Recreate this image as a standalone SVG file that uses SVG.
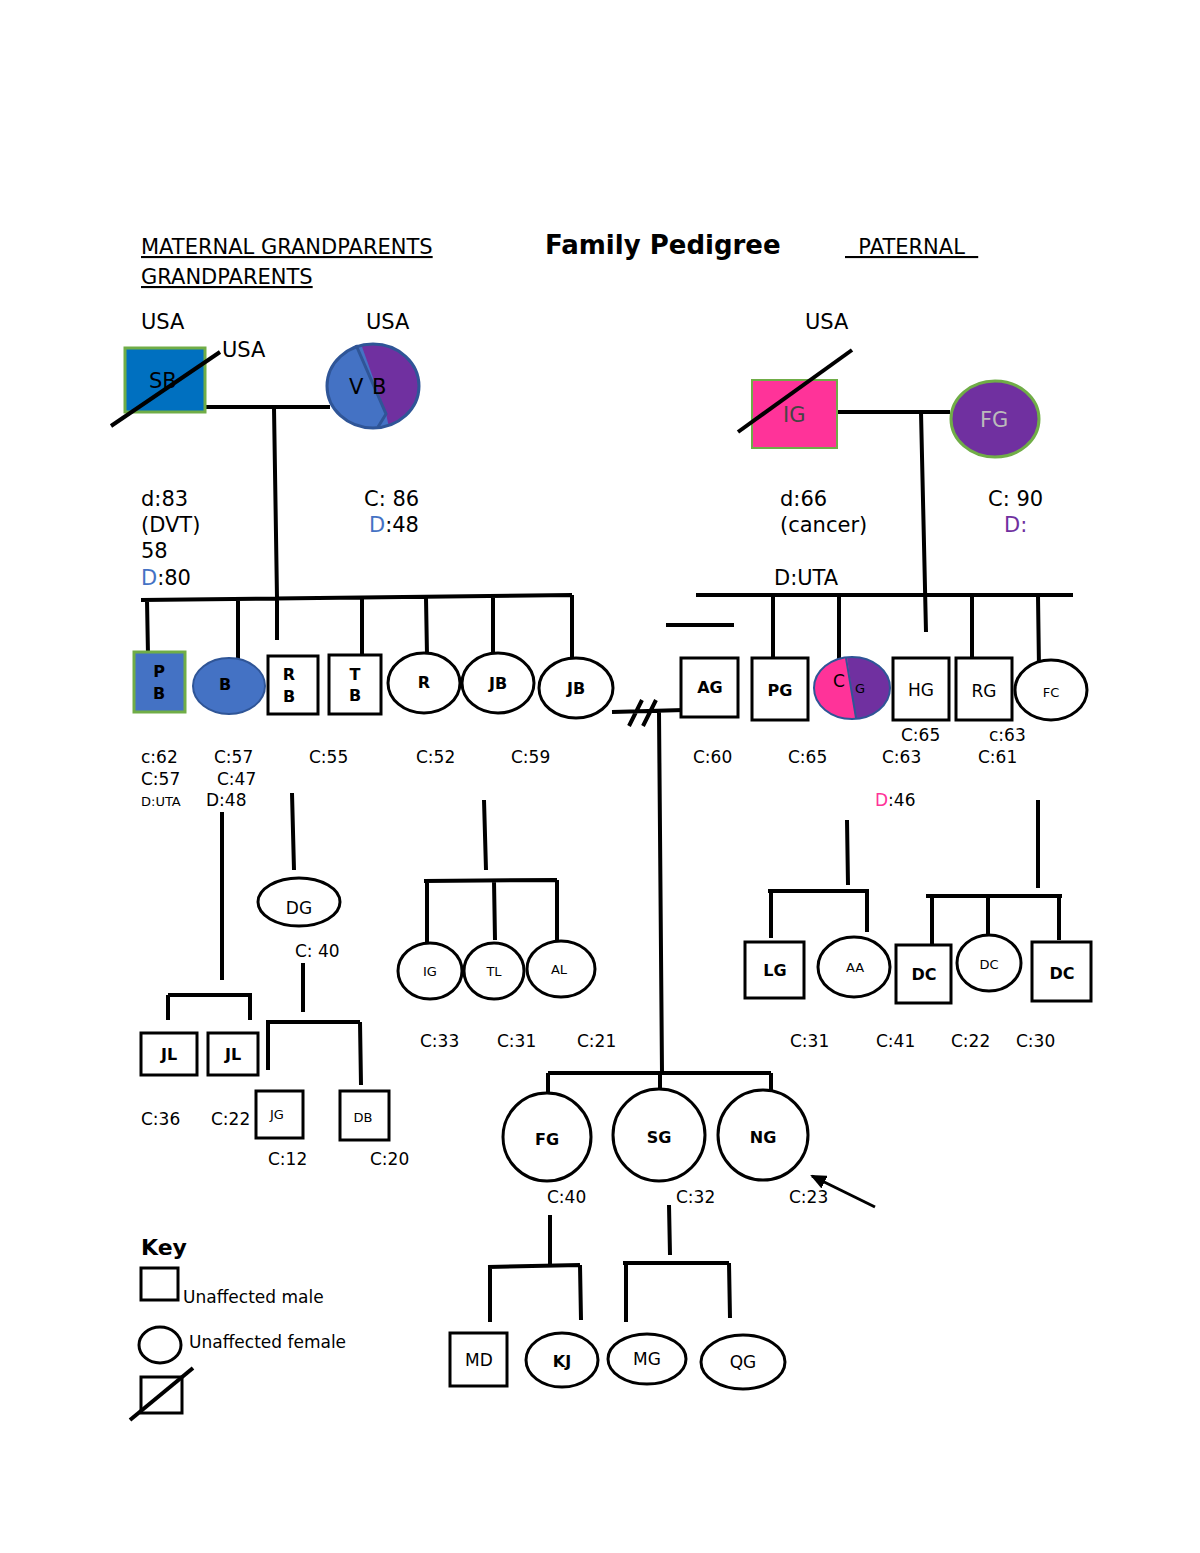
<svg xmlns="http://www.w3.org/2000/svg" width="1200" height="1553" viewBox="0 0 1200 1553">
<style>
text{font-family:"DejaVu Sans","Liberation Sans",sans-serif;fill:#000}
.t{font-size:21px}
.s{font-size:17px}
.n{font-size:16px;font-weight:bold}
.sm{font-size:13px}
.b{fill:#fff;stroke:#000;stroke-width:3}
.l{stroke:#000;stroke-width:4;fill:none}
.bl{fill:#4472c4}.pu{fill:#7030a0}.pk{fill:#ff3399}
</style>
<defs>
<clipPath id="cvb"><ellipse cx="373" cy="386" rx="46" ry="42"/></clipPath>
<clipPath id="ccg"><ellipse cx="852" cy="688" rx="38" ry="31"/></clipPath>
<marker id="ah" markerUnits="userSpaceOnUse" markerWidth="16" markerHeight="14" refX="14" refY="7" orient="auto"><path d="M0,0L16,7L0,14z" fill="#000"/></marker>
</defs>
<rect width="1200" height="1553" fill="#fff"/>
<g id="headers">
<text x="141" y="254" class="t" text-decoration="underline">MATERNAL GRANDPARENTS</text>
<text x="141" y="284" class="t" text-decoration="underline">GRANDPARENTS</text>
<text x="545" y="254" font-size="26" font-weight="bold">Family Pedigree</text>
<text x="845" y="254" class="t" text-decoration="underline" xml:space="preserve">  PATERNAL  </text>
<text x="141" y="329" class="t">USA</text>
<text x="366" y="329" class="t">USA</text>
<text x="222" y="357" class="t">USA</text>
<text x="805" y="329" class="t">USA</text>
</g>
<g id="connectors">
<path class="l" d="M203,407H330M274,408L277,598M141,600L572,595M147,600L148,655M238,600L238,660M277,598L277,640M362,598V655M426,598L427,655M493,597V652M572,595V660"/>
<path class="l" d="M837,412H950M921,412L926,632M696,595H1073M666,625H734M773,596V660M839,596V680M972,596V660M1038,596L1039,668"/>
<path class="l" d="M612,712L684,710M629,726L642,700M643,726L656,700M659,712L662,1073M548,1073H771M548,1073V1093M660,1073V1093M771,1073V1093"/>
<path class="l" d="M222,812V980M168,995H252M168,995V1020M250,995V1020M292,793L294,870M303,963V1012M266,1022H360M268,1022V1070M360,1022L361,1085"/>
<path class="l" d="M484,800L486,870M424,881L557,880M427,881V944M494,881L495,940M557,880V940"/>
<path class="l" d="M847,820L848,885M768,891H869M771,891V938M867,891V932M1038,800V888M926,896H1062M932,896V944M988,896V935M1059,896V940"/>
<path class="l" d="M550,1215V1265M488,1267L580,1265M490,1267V1322M580,1265L581,1320M669,1205L670,1255M623,1263H729M626,1263V1322M729,1263L730,1318"/>
<path stroke="#000" stroke-width="3" d="M875,1207L812,1176" marker-end="url(#ah)"/>
</g>
<g id="SB"><rect x="125" y="348" width="80" height="64" fill="#0070c0" stroke="#70ad47" stroke-width="3"/><text x="149" y="388" class="t">SB</text><path class="l" d="M111,426L220,352"/></g>
<g id="VB"><ellipse cx="373" cy="386" rx="46" ry="42" class="pu"/><path d="M300,330H356L386,414L392,440H300z" class="bl" clip-path="url(#cvb)"/><path d="M356,345L386,414L378,427" stroke="#2f5597" stroke-width="3" fill="none"/><ellipse cx="373" cy="386" rx="46" ry="42" fill="none" stroke="#2f5597" stroke-width="3"/><text x="349" y="394" class="t">V</text><text x="372" y="394" class="t">B</text></g>
<g id="IG"><rect x="752" y="380" width="85" height="68" class="pk" stroke="#70ad47" stroke-width="2"/><text x="783" y="422" class="t" style="fill:#444">IG</text><path class="l" d="M738,432L852,350"/></g>
<g id="FG1"><ellipse cx="995" cy="419" rx="44" ry="38" class="pu" stroke="#70ad47" stroke-width="3"/><text x="980" y="427" class="t" style="fill:#bbb">FG</text></g>
<g id="notes">
<text x="141" y="506" class="t">d:83</text><text x="141" y="532" class="t">(DVT)</text><text x="141" y="558" class="t">58</text>
<text x="141" y="585" class="t"><tspan style="fill:#4472c4">D</tspan>:80</text>
<text x="364" y="506" class="t">C: 86</text><text x="369" y="532" class="t"><tspan style="fill:#4472c4">D</tspan>:48</text>
<text x="780" y="506" class="t">d:66</text><text x="780" y="532" class="t">(cancer)</text>
<text x="988" y="506" class="t">C: 90</text><text x="1004" y="532" class="t" style="fill:#7030a0">D:</text>
<text x="774" y="585" class="t">D:UTA</text>
</g>
<g id="PB"><rect x="134" y="652" width="51" height="60" class="bl" stroke="#70ad47" stroke-width="3"/><text x="159" y="677" class="n" text-anchor="middle">P</text><text x="159" y="699" class="n" text-anchor="middle">B</text></g>
<g id="B"><ellipse cx="229" cy="686" rx="36" ry="28" class="bl" stroke="#2f5597" stroke-width="2"/><text x="225" y="690" class="n" text-anchor="middle">B</text></g>
<g id="RB"><rect x="268" y="656" width="50" height="58" class="b"/><text x="289" y="680" class="n" text-anchor="middle">R</text><text x="289" y="702" class="n" text-anchor="middle">B</text></g>
<g id="TB"><rect x="329" y="655" width="52" height="59" class="b"/><text x="355" y="680" class="n" text-anchor="middle">T</text><text x="355" y="701" class="n" text-anchor="middle">B</text></g>
<g id="R"><ellipse cx="424" cy="683" rx="36" ry="30" class="b"/><text x="424" y="688" class="n" text-anchor="middle">R</text></g>
<g id="JB1"><ellipse cx="498" cy="683" rx="36" ry="30" class="b"/><text x="498" y="689" class="n" text-anchor="middle">JB</text></g>
<g id="JB2"><ellipse cx="576" cy="688" rx="37" ry="30" class="b"/><text x="576" y="694" class="n" text-anchor="middle">JB</text></g>
<g id="AG"><rect x="681" y="658" width="57" height="59" class="b"/><text x="710" y="693" class="n" text-anchor="middle">AG</text></g>
<g id="PG"><rect x="752" y="658" width="56" height="62" class="b"/><text x="780" y="696" class="n" text-anchor="middle">PG</text></g>
<g id="CG"><ellipse cx="852" cy="688" rx="38" ry="31" class="pu"/><path d="M800,650H846L856,720H800z" class="pk" clip-path="url(#ccg)"/><path d="M846,658L856,718" stroke="#2f5597" stroke-width="2"/><ellipse cx="852" cy="688" rx="38" ry="31" fill="none" stroke="#2f5597" stroke-width="2"/><text x="833" y="687" class="s">C</text><text x="855" y="693" class="sm">G</text></g>
<g id="HG"><rect x="893" y="658" width="56" height="62" class="b"/><text x="921" y="696" class="s" text-anchor="middle">HG</text></g>
<g id="RG"><rect x="956" y="658" width="56" height="62" class="b"/><text x="984" y="697" class="s" text-anchor="middle">RG</text></g>
<g id="FC"><ellipse cx="1051" cy="690" rx="36" ry="30" class="b"/><text x="1051" y="697" class="sm" text-anchor="middle">FC</text></g>
<g id="ages1">
<text x="141" y="763" class="s">c:62</text><text x="214" y="763" class="s">C:57</text><text x="309" y="763" class="s">C:55</text><text x="416" y="763" class="s">C:52</text><text x="511" y="763" class="s">C:59</text>
<text x="141" y="785" class="s">C:57</text><text x="217" y="785" class="s">C:47</text>
<text x="141" y="806" class="sm">D:UTA</text><text x="206" y="806" class="s">D:48</text>
<text x="693" y="763" class="s">C:60</text><text x="788" y="763" class="s">C:65</text><text x="882" y="763" class="s">C:63</text><text x="978" y="763" class="s">C:61</text>
<text x="901" y="741" class="s">C:65</text><text x="989" y="741" class="s">c:63</text>
<text x="875" y="806" class="s"><tspan style="fill:#ff3399">D</tspan>:46</text>
</g>
<g id="JL1"><rect x="141" y="1033" width="56" height="42" class="b"/><text x="169" y="1060" class="n" text-anchor="middle">JL</text></g>
<g id="JL2"><rect x="208" y="1033" width="50" height="42" class="b"/><text x="233" y="1060" class="n" text-anchor="middle">JL</text></g>
<g id="DG"><ellipse cx="299" cy="902" rx="41" ry="24" class="b"/><text x="299" y="914" class="s" text-anchor="middle">DG</text></g>
<g id="JG"><rect x="256" y="1091" width="47" height="47" class="b"/><text x="277" y="1119" class="sm" text-anchor="middle">JG</text></g>
<g id="DB"><rect x="340" y="1091" width="49" height="49" class="b"/><text x="363" y="1122" class="sm" text-anchor="middle">DB</text></g>
<g id="IG2"><ellipse cx="430" cy="971" rx="32" ry="28" class="b"/><text x="430" y="976" class="sm" text-anchor="middle">IG</text></g>
<g id="TL"><ellipse cx="494" cy="971" rx="30" ry="28" class="b"/><text x="494" y="976" class="sm" text-anchor="middle">TL</text></g>
<g id="AL"><ellipse cx="561" cy="969" rx="34" ry="28" class="b"/><text x="559" y="974" class="sm" text-anchor="middle">AL</text></g>
<g id="LG"><rect x="745" y="942" width="59" height="56" class="b"/><text x="775" y="976" class="n" text-anchor="middle">LG</text></g>
<g id="AA"><ellipse cx="854" cy="967" rx="36" ry="30" class="b"/><text x="855" y="972" class="sm" text-anchor="middle">AA</text></g>
<g id="DC1"><rect x="896" y="945" width="55" height="58" class="b"/><text x="924" y="980" class="n" text-anchor="middle">DC</text></g>
<g id="DC2"><ellipse cx="989" cy="963" rx="32" ry="28" class="b"/><text x="989" y="969" class="sm" text-anchor="middle">DC</text></g>
<g id="DC3"><rect x="1032" y="942" width="59" height="59" class="b"/><text x="1062" y="979" class="n" text-anchor="middle">DC</text></g>
<g id="ages2">
<text x="141" y="1125" class="s">C:36</text><text x="211" y="1125" class="s">C:22</text>
<text x="268" y="1165" class="s">C:12</text><text x="370" y="1165" class="s">C:20</text>
<text x="295" y="957" class="s">C: 40</text>
<text x="420" y="1047" class="s">C:33</text><text x="497" y="1047" class="s">C:31</text><text x="577" y="1047" class="s">C:21</text>
<text x="790" y="1047" class="s">C:31</text><text x="876" y="1047" class="s">C:41</text><text x="951" y="1047" class="s">C:22</text><text x="1016" y="1047" class="s">C:30</text>
<text x="547" y="1203" class="s">C:40</text><text x="676" y="1203" class="s">C:32</text><text x="789" y="1203" class="s">C:23</text>
</g>
<g id="FG2"><circle cx="547" cy="1137" r="44" class="b"/><text x="547" y="1145" class="n" font-size="19" text-anchor="middle">FG</text></g>
<g id="SG"><circle cx="659" cy="1135" r="46" class="b"/><text x="659" y="1143" class="n" text-anchor="middle" font-size="19">SG</text></g>
<g id="NG"><circle cx="763" cy="1135" r="45" class="b"/><text x="763" y="1143" class="n" text-anchor="middle" font-size="19">NG</text></g>
<g id="MD"><rect x="450" y="1333" width="57" height="53" class="b"/><text x="479" y="1366" class="s" text-anchor="middle">MD</text></g>
<g id="KJ"><ellipse cx="562" cy="1360" rx="36" ry="27" class="b"/><text x="562" y="1367" class="n" text-anchor="middle">KJ</text></g>
<g id="MG"><ellipse cx="647" cy="1359" rx="39" ry="25" class="b"/><text x="647" y="1365" class="s" text-anchor="middle">MG</text></g>
<g id="QG"><ellipse cx="743" cy="1362" rx="42" ry="27" class="b"/><text x="743" y="1368" class="s" text-anchor="middle">QG</text></g>
<g id="key">
<text x="141" y="1255" font-size="22" font-weight="bold">Key</text>
<rect x="141" y="1268" width="37" height="32" class="b"/><text x="183" y="1303" class="s">Unaffected male</text>
<ellipse cx="160" cy="1345" rx="21" ry="18" class="b"/><text x="189" y="1348" class="s">Unaffected female</text>
<rect x="141" y="1377" width="41" height="36" class="b"/><path class="l" d="M130,1420L193,1368"/>
</g>
</svg>
